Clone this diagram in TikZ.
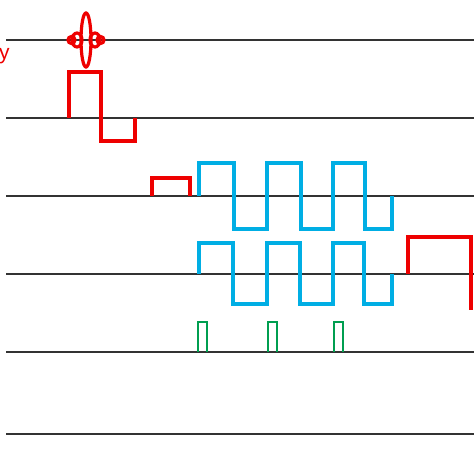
\documentclass[tikz,border=0pt]{standalone}
\usepackage{fontspec}
\setmainfont{Liberation Sans}
\usetikzlibrary{positioning}

\definecolor{rfred}{RGB}{238,0,0}
\definecolor{gradblue}{RGB}{0,174,228}
\definecolor{adcgreen}{RGB}{0,158,80}

\begin{document}
\begin{tikzpicture}[
    x=1pt, y=-1pt,
    axis/.style={draw=black!80, line width=1.5pt},
    rf/.style={draw=rfred, line width=3.2pt, line join=miter},
    grad/.style={draw=gradblue, line width=3.4pt, line join=miter},
    adc/.style={draw=adcgreen, line width=2.8pt, line join=miter},
    lbl/.style={text=rfred, font=\fontsize{21}{21}\selectfont, inner sep=0pt}
]
\useasboundingbox (0,0) rectangle (474,474);

% time axes
\foreach \name/\y in {RF/40, GS/118, GP/196, GR/274, ADC/352, SIG/434}
{
    \coordinate (\name-start) at (6,\y);
    \coordinate (\name-end) at (474,\y);
    \draw [axis] (\name-start) -- (\name-end);
}

\node [lbl, anchor=west] (Label) at (-1,56) {y};

% rf pulse
\draw [rf] (86,40) ellipse [x radius=5, y radius=27];
\draw [rf] (77,40) ellipse [x radius=5, y radius=7];
\draw [rf] (95,40) ellipse [x radius=5, y radius=7];
\draw [rf] (71.5,40) circle [radius=3.5];
\draw [rf] (100.5,40) circle [radius=3.5];

% slice select
\draw [rf] (69,118) -- (69,72) -- (101,72) -- (101,141) -- (135,141) -- (135,118);

% phase encode
\draw [rf] (152,196) -- (152,178) -- (190,178) -- (190,196);
\draw [grad] (199,196) -- (199,163) -- (234,163) -- (234,229) -- (267,229)
    -- (267,163) -- (301,163) -- (301,229) -- (333,229) -- (333,163)
    -- (365,163) -- (365,229) -- (392,229) -- (392,196);

% readout
\draw [grad] (199,274) -- (199,243) -- (233,243) -- (233,304) -- (267,304)
    -- (267,243) -- (300,243) -- (300,304) -- (333,304) -- (333,243)
    -- (364,243) -- (364,304) -- (392,304) -- (392,274);
\draw [rf] (408,274) -- (408,237) -- (471,237) -- (471,310);

% sampling
\foreach \x in {198, 268, 334}
    \draw [adc] (\x,352) -- (\x,322) -- (\x+9,322) -- (\x+9,352);

\end{tikzpicture}
\end{document}
